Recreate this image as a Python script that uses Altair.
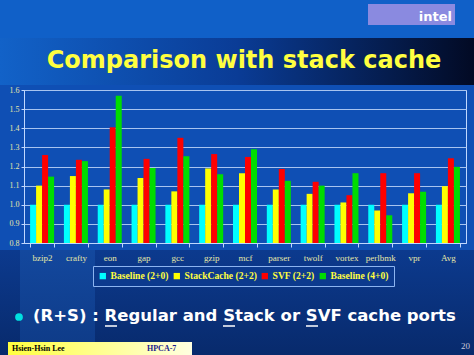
import altair as alt
import pandas as pd

benchmarks = ["bzip2", "crafty", "eon", "gap", "gcc", "gzip", "mcf", "parser",
              "twolf", "vortex", "perlbmk", "vpr", "Avg"]
series = ["Baseline (2+0)", "StackCache (2+2)", "SVF (2+2)", "Baseline (4+0)"]
baseline_2_0 = [1.0, 1.0, 1.0, 1.0, 1.0, 1.0, 1.0, 1.0, 1.0, 1.0, 1.0, 1.0, 1.0]
stackcache_2_2 = [1.10, 1.15, 1.08, 1.14, 1.07, 1.19, 1.165, 1.08, 1.057, 1.012, 0.97, 1.06, 1.097]
svf_2_2 = [1.26, 1.235, 1.405, 1.24, 1.35, 1.265, 1.25, 1.187, 1.12, 1.05, 1.165, 1.165, 1.243]
baseline_4_0 = [1.147, 1.228, 1.57, 1.192, 1.253, 1.16, 1.29, 1.125, 1.10, 1.165, 0.945, 1.068, 1.198]
bar_colors = ["#00FFFF", "#FFFF00", "#FF0000", "#00DD00"]
y_ticks = [0.8, 0.9, 1.0, 1.1, 1.2, 1.3, 1.4, 1.5, 1.6]

rows = []
for name, vals in zip(series, [baseline_2_0, stackcache_2_2, svf_2_2, baseline_4_0]):
    for b, v in zip(benchmarks, vals):
        rows.append({"benchmark": b, "series": name, "value": v})
df = pd.DataFrame(rows)
one = pd.DataFrame({"a": [0]})

W, H = 442, 153

def rect(x, x2, y, y2, color):
    return alt.Chart(one).mark_rect(color=color).encode(
        x=alt.value(x), x2=alt.value(x2), y=alt.value(y), y2=alt.value(y2))

def rule(x, x2, y, color, width=1.5):
    return alt.Chart(one).mark_rule(color=color, strokeWidth=width).encode(
        x=alt.value(x), x2=alt.value(x2), y=alt.value(y))

def grad(c1, c2, horizontal=True, mid=None):
    stops = [alt.GradientStop(color=c1, offset=0)]
    if mid:
        stops.append(alt.GradientStop(color=mid, offset=0.5))
    stops.append(alt.GradientStop(color=c2, offset=1))
    if horizontal:
        return alt.LinearGradient(gradient="linear", stops=stops, x1=0, x2=1, y1=0, y2=0)
    return alt.LinearGradient(gradient="linear", stops=stops, x1=0, x2=0, y1=0, y2=1)

def text(t, x, y, size, color, font="DejaVu Sans", weight="bold", align="left", baseline="middle"):
    return alt.Chart(one).mark_text(
        text=t, font=font, fontSize=size, fontWeight=weight, color=color,
        align=align, baseline=baseline).encode(x=alt.value(x), y=alt.value(y))

# background regions (outside the plot area)
top_band = rect(-24, 450, -90, -52, "#1060C8")
title_band = rect(-24, 450, -52, -5, grad("#1262C8", "#020A24", mid="#0A3C96"))
bottom_band = rect(-24, 450, 160, 265, grad("#0C3A8E", "#082A6C", horizontal=False))
left_stripe = rect(-4, 71, 160, 265, grad("#13489E", "#0E3A86", horizontal=False))
logo_box = rect(344, 431, -86, -65, "#8A8AE0")
logo_text = text("intel", 428, -73, 13, "#FFFFFF", align="right")

title = text("Comparison with stack cache", 220, -29, 24, "#FFFF40", align="center")

bars = alt.Chart(df).mark_bar().encode(
    x=alt.X("benchmark:N", sort=benchmarks,
            scale=alt.Scale(paddingInner=0.29, paddingOuter=0.18),
            axis=alt.Axis(title=None, labelAngle=0, tickBand="extent", tickSize=4,
                          tickColor="#C0D8FF", domainColor="#C0D8FF",
                          labelColor="#E8E8A8", labelFont="Liberation Serif",
                          labelFontSize=9, labelPadding=6, zindex=1)),
    xOffset=alt.XOffset("series:N", sort=series,
                        scale=alt.Scale(paddingInner=0, paddingOuter=0)),
    y=alt.Y("value:Q", scale=alt.Scale(domain=[0.8, 1.6], zero=False, nice=False),
            axis=alt.Axis(title=None, values=y_ticks, format=".1f", tickSize=3,
                          tickColor="#C0D8FF", domainColor="#C0D8FF",
                          gridColor="#A8C4F0", gridWidth=1,
                          labelColor="#E8E8A8", labelFont="Liberation Serif",
                          labelFontSize=8, labelPadding=2)),
    y2=alt.datum(0.8),
    color=alt.Color("series:N", sort=series,
                    scale=alt.Scale(domain=series, range=bar_colors),
                    legend=alt.Legend(title=None, orient="none", legendX=69, legendY=176,
                                      direction="horizontal", symbolType="square",
                                      symbolSize=40, symbolStrokeWidth=0,
                                      labelColor="#FFFF40", labelFont="Liberation Serif",
                                      labelFontWeight="bold", labelFontSize=9.6,
                                      labelOffset=3, columnPadding=3,
                                      strokeColor="#8CB4F0", padding=5,
                                      fillColor="#0C3A8E")),
)

bullet = alt.Chart(one).mark_point(filled=True, shape="circle", size=60,
                                   color="#00E0E0", opacity=1).encode(
    x=alt.value(-5), y=alt.value(227))
bullet_text = text("(R+S) : Regular and Stack or SVF cache ports", 9, 226, 16.5, "#FFFFFF")
u1 = rule(81, 93, 236, "#FFFFFF")
u2 = rule(199, 211, 236, "#FFFFFF")
u3 = rule(282, 294, 236, "#FFFFFF")

footer_box = rect(-16, 168, 252, 265, grad("#FFFF40", "#FFFFE0"))
footer_l = text("Hsien-Hsin Lee", -12, 259, 8, "#000000", font="Liberation Serif")
footer_r = text("HPCA-7", 123, 259, 8, "#1A1A8C", font="Liberation Serif")
page = text("20", 446, 256, 9, "#C8C8D8", font="Liberation Serif", weight="normal", align="right")

chart = alt.layer(
    top_band, title_band, bottom_band, left_stripe, logo_box, logo_text,
    title, bars, bullet, bullet_text, u1, u2, u3,
    footer_box, footer_l, footer_r, page
).properties(
    width=W, height=H,
    autosize=alt.AutoSizeParams(type="none"),
    padding={"left": 24, "top": 90, "right": 8, "bottom": 112},
    background="#0F4FB4",
).configure_view(stroke="#C0D8FF", strokeWidth=1)

chart.save("out.html", embed_options={"renderer": "svg", "actions": False})
